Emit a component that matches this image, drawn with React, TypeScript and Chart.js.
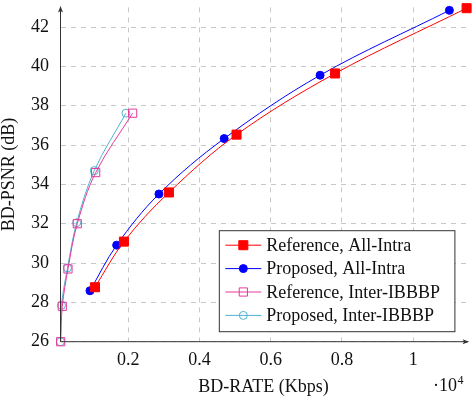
import React, { useEffect, useRef } from "react";
import { Chart, registerables } from "chart.js";

Chart.register(...registerables);

// BD-RATE (Kbps) / BD-PSNR (dB)
const refIntraRate = [1068, 1881, 3143, 5042, 7808, 11500];
const refIntraPsnr = [28.77, 31.09, 33.59, 36.53, 39.64, 42.96];
const propIntraRate = [927, 1676, 2863, 4695, 7387, 11017];
const propIntraPsnr = [28.59, 30.91, 33.51, 36.33, 39.55, 42.85];
const refInterRate = [105, 150, 310, 571, 1087, 2125];
const refInterPsnr = [26.0, 27.8, 29.7, 32.0, 34.6, 37.62];
const propInterRate = [100, 128, 296, 554, 1048, 1937];
const propInterPsnr = [26.0, 27.85, 29.75, 32.05, 34.7, 37.62];

const seriesLabels = [
  "Reference, All-Intra",
  "Proposed, All-Intra",
  "Reference, Inter-IBBBP",
  "Proposed, Inter-IBBBP",
];
const xTicks = [2000, 4000, 6000, 8000, 10000];
const xTickLabels = ["0.2", "0.4", "0.6", "0.8", "1"];
const yTicks = [26, 28, 30, 32, 34, 36, 38, 40, 42];

const FONT = '"Liberation Serif", "Times New Roman", serif';

const zip = (xs: number[], ys: number[]) => xs.map((x, i) => ({ x, y: ys[i] }));

const overlayPlugin = {
  id: "overlay",
  afterDraw(chart: any) {
    const ctx = chart.ctx as CanvasRenderingContext2D;
    const ca = chart.chartArea;
    ctx.save();
    // axes with arrows
    ctx.strokeStyle = "#333";
    ctx.fillStyle = "#333";
    ctx.lineWidth = 1;
    ctx.beginPath();
    ctx.moveTo(ca.left, ca.bottom);
    ctx.lineTo(ca.left, ca.top - 0.5);
    ctx.moveTo(ca.left, ca.bottom);
    ctx.lineTo(ca.right + 1.5, ca.bottom);
    ctx.stroke();
    // arrow heads
    ctx.beginPath();
    ctx.moveTo(ca.left, ca.top - 1.5);
    ctx.lineTo(ca.left - 2.5, ca.top + 5);
    ctx.lineTo(ca.left, ca.top + 3.5);
    ctx.lineTo(ca.left + 2.5, ca.top + 5);
    ctx.closePath();
    ctx.fill();
    ctx.beginPath();
    ctx.moveTo(ca.right + 2.5, ca.bottom);
    ctx.lineTo(ca.right - 4, ca.bottom - 2.5);
    ctx.lineTo(ca.right - 2.5, ca.bottom);
    ctx.lineTo(ca.right - 4, ca.bottom + 2.5);
    ctx.closePath();
    ctx.fill();

    // x multiplier
    ctx.fillStyle = "#111";
    ctx.textBaseline = "alphabetic";
    ctx.textAlign = "left";
    ctx.font = `18px ${FONT}`;
    const base = "\u00b710";
    ctx.fillText(base, 433, 391);
    const w = ctx.measureText(base).width;
    ctx.font = `12px ${FONT}`;
    ctx.fillText("4", 433 + w + 0.5, 384);

    // legend
    ctx.font = `18px ${FONT}`;
    const ds = chart.data.datasets;
    const tw = Math.max(...ds.map((d: any) => ctx.measureText(d.label).width));
    const padL = 6, lineLen = 36, gap = 5, padR = 15;
    const boxW = padL + lineLen + gap + tw + padR;
    const boxH = 101;
    const right = ca.right - 11.7;
    const bottom = ca.bottom - 10;
    const left = right - boxW;
    const top = bottom - boxH;
    ctx.fillStyle = "#fff";
    ctx.fillRect(left, top, boxW, boxH);
    ctx.strokeStyle = "#333";
    ctx.lineWidth = 1;
    ctx.strokeRect(left, top, boxW, boxH);
    ds.forEach((d: any, i: number) => {
      const cy = top + 14.5 + i * 23.4;
      const x0 = left + padL;
      ctx.strokeStyle = d.borderColor;
      ctx.lineWidth = 1;
      ctx.beginPath();
      ctx.moveTo(x0, cy);
      ctx.lineTo(x0 + lineLen, cy);
      ctx.stroke();
      const cx = x0 + lineLen / 2;
      ctx.fillStyle = d.pointBackgroundColor;
      ctx.strokeStyle = d.pointBorderColor;
      ctx.lineWidth = 1;
      if (d.pointStyle === "rect") {
        const s = Math.SQRT1_2 * d.pointRadius;
        ctx.beginPath();
        ctx.rect(cx - s, cy - s, 2 * s, 2 * s);
        ctx.fill();
        ctx.stroke();
      } else {
        ctx.beginPath();
        ctx.arc(cx, cy, d.pointRadius, 0, Math.PI * 2);
        ctx.fill();
        ctx.stroke();
      }
      ctx.fillStyle = "#111";
      ctx.textAlign = "left";
      ctx.textBaseline = "middle";
      ctx.fillText(d.label, x0 + lineLen + gap, cy + 1);
    });
    ctx.restore();
  },
};

export default function App() {
  const ref = useRef<HTMLCanvasElement | null>(null);
  useEffect(() => {
    document.body.style.margin = "0";
    const canvas = ref.current!;
    const mk = (label: string, data: any[], color: string, fill: string, style: string, r: number) => ({
      label,
      data,
      showLine: true,
      borderColor: color,
      borderWidth: 1,
      pointStyle: style,
      pointRadius: r,
      pointBackgroundColor: fill,
      pointBorderColor: color,
      pointBorderWidth: 1,
      tension: 0.35,
      clip: false as any,
    });
    const chart = new Chart(canvas, {
      type: "scatter",
      data: {
        datasets: [
          mk(seriesLabels[0], zip(refIntraRate, refIntraPsnr), "#ff0000", "#ff0000", "rect", 6.4),
          mk(seriesLabels[1], zip(propIntraRate, propIntraPsnr), "#0000ff", "#0000ff", "circle", 4),
          mk(seriesLabels[2], zip(refInterRate, refInterPsnr), "#e6399b", "rgba(255,255,255,0)", "rect", 5.8),
          mk(seriesLabels[3], zip(propInterRate, propInterPsnr), "#4fb3d3", "rgba(255,255,255,0)", "circle", 4),
        ] as any,
      },
      options: {
        animation: false,
        responsive: false,
        devicePixelRatio: 1,
        layout: { padding: { top: 4.25, right: 7, left: 0, bottom: 0 } },
        plugins: { legend: { display: false }, tooltip: { enabled: false } },
        scales: {
          x: {
            type: "linear",
            min: 100,
            max: 11500,
            afterBuildTicks: (axis: any) => {
              axis.ticks = xTicks.map((v) => ({ value: v }));
            },
            afterFit: (axis: any) => {
              axis.height = 56.3;
              axis.paddingLeft = 0;
              axis.paddingRight = 0;
            },
            ticks: {
              padding: 8,
              color: "#111",
              font: { family: FONT, size: 18 },
              maxRotation: 0,
              callback: (v: any) => {
                const i = xTicks.indexOf(Number(v));
                return i >= 0 ? xTickLabels[i] : "";
              },
            },
            grid: { color: "#c8c8c8", lineWidth: 1, drawTicks: false },
            border: { display: false, dash: [5, 5] },
            title: {
              display: true,
              text: "BD-RATE (Kbps)",
              color: "#111",
              font: { family: FONT, size: 18, lineHeight: 1 },
              padding: { top: 0, bottom: 2 },
            },
          },
          y: {
            type: "linear",
            min: 26,
            max: 43,
            afterBuildTicks: (axis: any) => {
              axis.ticks = yTicks.map((v) => ({ value: v }));
            },
            afterFit: (axis: any) => {
              axis.width = 60.5;
              axis.paddingTop = 0;
              axis.paddingBottom = 0;
            },
            ticks: {
              padding: 11.5,
              color: "#111",
              font: { family: FONT, size: 18 },
              callback: (v: any) => String(v),
            },
            grid: { color: "#c8c8c8", lineWidth: 1, drawTicks: false },
            border: { display: false, dash: [5, 5] },
            title: {
              display: true,
              text: "BD-PSNR (dB)",
              color: "#111",
              font: { family: FONT, size: 18, lineHeight: 1 },
              padding: { top: 0, bottom: 0 },
            },
          },
        },
      },
      plugins: [overlayPlugin],
    });
    return () => chart.destroy();
  }, []);
  return <canvas ref={ref} width={474} height={398} style={{ display: "block" }} />;
}
